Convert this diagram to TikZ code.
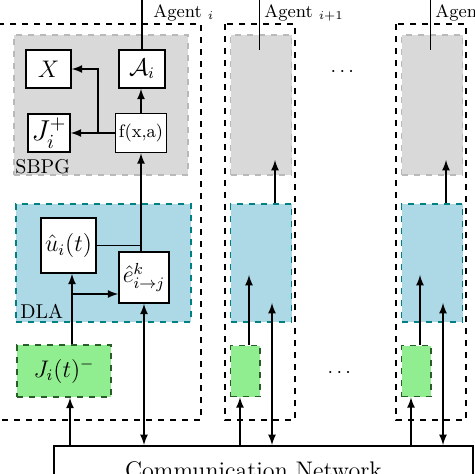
\documentclass[tikz,border=0pt]{standalone}
\usepackage{amsmath}
\usetikzlibrary{shapes,positioning,arrows,calc}
\definecolor{sbpgfill}{RGB}{217,217,217}
\definecolor{sbpgline}{RGB}{185,185,185}
\definecolor{dlafill}{RGB}{173,216,230}
\definecolor{dlaline}{RGB}{0,128,128}
\definecolor{rewfill}{RGB}{144,238,144}
\definecolor{rewline}{RGB}{40,95,40}
\tikzstyle{agent} = [black, thick, dashed]
\tikzstyle{sbpg} = [draw=sbpgline, fill=sbpgfill, dashed, thick, inner sep=0pt]
\tikzstyle{dla} = [draw=dlaline, fill=dlafill, dashed, thick, inner sep=0pt]
\tikzstyle{reward} = [draw=rewline, fill=rewfill, dashed, thick, inner sep=0pt, font=\large]
\tikzstyle{block} = [draw, thick, fill=white, inner sep=0pt, font=\large]
\tikzstyle{arrow} = [->, >=latex, thick]
\tikzstyle{legend} = [inner sep=0pt, anchor=base west]
\newcommand{\drawAgent}[3]{
  % frame
  \draw[agent] (#2,24) rectangle (#2+70,420);
  \node[legend, font=\small] (#1label) at (#2+39,18) {#3};
  % blocks
  \node[sbpg, minimum width=30.5pt, minimum height=70pt] (#1sbpg) at (#2+36,105) {};
  \node[dla, minimum width=30.5pt, minimum height=59pt] (#1dla) at (#2+36,263) {};
  \node[reward, minimum width=14.75pt, minimum height=25.5pt] (#1rew) at (#2+20.25,371) {};
  % links
  \coordinate (#1act) at (#2+34.5,50);
  \coordinate (#1in) at (#2+15,445);
  \coordinate (#1up) at (#2+24,275);
  \coordinate (#1out) at (#2+50,160);
  \coordinate (#1msg) at (#2+47,303);
  \draw[thick] (#1act) -- ++(0,-60);
  \draw[arrow] (#1in) -- (#1in |- #1rew.south);
  \draw[arrow] (#1up |- #1rew.north) -- (#1up);
  \draw[arrow] (#1out |- #1dla.north) -- (#1out);
  \draw[arrow, <->] (#1msg |- comm.north) -- (#1msg);
}

\begin{document}
\begin{tikzpicture}[x=0.5pt,y=-0.5pt]
  \useasboundingbox (0,0) rectangle (474,474);

  % network
  \node[draw, thick, anchor=north west, minimum width=209.5pt, minimum height=40pt] (comm) at (53,445) {};
  \node[font=\large, anchor=base] (commlabel) at (253.5,478) {Communication Network};

  % agent i
  \draw[agent] (-10,24) rectangle (201,420);
  \node[legend, font=\small] (agentlabel) at (153,18) {Agent $_i$};
  \node[sbpg, minimum width=87pt, minimum height=70pt] (sbpg) at (101,105) {};
  \node[legend] (sbpglabel) at (15,174) {SBPG};
  \node[dla, minimum width=87.5pt, minimum height=59pt] (dla) at (103.5,263) {};
  \node[legend] (dlalabel) at (20,319) {DLA};
  \node[reward, minimum width=47pt, minimum height=26pt] (jminus) at (64,371) {$J_i(t)^-$};

  \node[block, minimum width=22.5pt, minimum height=19pt] (x) at (48.5,69) {$X$};
  \node[block, minimum width=23pt, minimum height=19pt] (act) at (142,69) {$\mathcal{A}_i$};
  \node[block, minimum width=21pt, minimum height=19pt, font=\Large] (jplus) at (49,133) {$J_i^+$};
  \node[block, minimum width=25.5pt, minimum height=19.5pt, font=\small] (f) at (141,133) {f(x,a)};
  \node[block, minimum width=27.5pt, minimum height=27.5pt] (u) at (68.5,245.5) {$\hat{u}_i(t)$};
  \node[block, minimum width=25pt, minimum height=25.5pt] (e) at (144,277.5) {$\hat{e}_{i\rightarrow j}^k$};

  \draw[thick] (act.north) -- ++(0,-60);
  \draw[arrow] (f.north) -- (f.north |- act.south);
  \draw[arrow] (f.west) -- (jplus.east);
  \coordinate (sbfork) at (98,133);
  \draw[arrow] (sbfork) |- (x.east);
  \draw[arrow] (e.north -| f.south) -- (f.south);
  \draw[thick] (u.east) -- (u.east -| f.south);
  \coordinate (dlafork) at (72,294);
  \draw[arrow] (dlafork |- jminus.north) -- (dlafork |- u.south);
  \draw[arrow] (dlafork) -- (dlafork -| e.west);
  \coordinate (rewin) at (70,445);
  \draw[arrow] (rewin) -- (rewin |- jminus.south);
  \draw[arrow, <->] (e.south) -- (e.south |- comm.north);

  % agent i+1 and agent n
  \drawAgent{next}{225}{Agent $_{i+1}$}
  \drawAgent{last}{396}{Agent $_n$}

  \node (dotstop) at (344,72) {$\cdots$};
  \node (dotsbot) at (341,373) {$\cdots$};
\end{tikzpicture}
\end{document}
